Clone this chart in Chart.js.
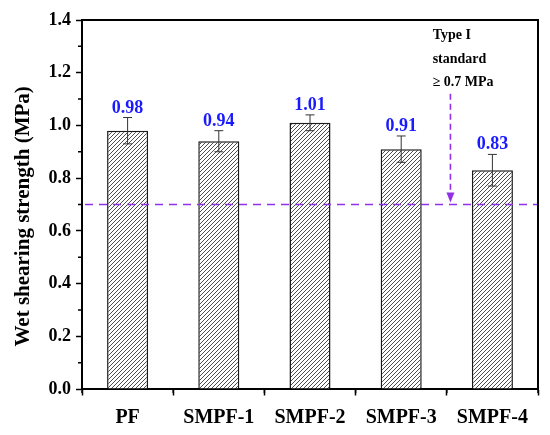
<!DOCTYPE html>
<html>
<head>
<meta charset="utf-8">
<script src="https://cdn.jsdelivr.net/npm/chart.js@4/dist/chart.umd.min.js"></script>
<style>
  html, body { margin: 0; padding: 0; background: #fff; }
  #wrap { width: 550px; height: 435px; }
</style>
</head>
<body>
<div id="wrap"><canvas id="c" width="550" height="435"></canvas></div>
<script>
// ---- data ----
const categories = ['PF', 'SMPF-1', 'SMPF-2', 'SMPF-3', 'SMPF-4'];
const strengths = [0.98, 0.94, 1.01, 0.91, 0.83];
const errors = [0.05, 0.04, 0.03, 0.05, 0.06];
const valueLabels = ['0.98', '0.94', '1.01', '0.91', '0.83'];
const standardValue = 0.7;
const noteLines = ['Type I', 'standard', '\u2265 0.7 MPa'];
const yTitle = 'Wet shearing strength (MPa)';

// ---- styles ----
const SERIF = "'Liberation Serif', 'Times New Roman', Times, serif";
const PURPLE = '#9030e8';

function makeHatch() {
  const pc = document.createElement('canvas');
  pc.width = 4; pc.height = 4;
  const g = pc.getContext('2d');
  g.fillStyle = '#fff';
  g.fillRect(0, 0, 4, 4);
  g.strokeStyle = '#3a3a3a';
  g.lineWidth = 0.9;
  g.beginPath();
  g.moveTo(0, 4); g.lineTo(4, 0);
  g.moveTo(-1, 1); g.lineTo(1, -1);
  g.moveTo(3, 5); g.lineTo(5, 3);
  g.stroke();
  return g.createPattern(pc, 'repeat');
}

const overlay = {
  id: 'overlay',
  afterDatasetsDraw(chart) {
    const { ctx, chartArea: a, scales: { x, y } } = chart;
    ctx.save();
    // standard dashed line
    const py7 = y.getPixelForValue(standardValue);
    ctx.strokeStyle = PURPLE;
    ctx.lineWidth = 1.6;
    ctx.setLineDash([8, 6]);
    ctx.beginPath();
    ctx.moveTo(a.left + 3, py7);
    ctx.lineTo(a.right, py7);
    ctx.stroke();
    ctx.setLineDash([]);

    // error bars + value labels
    const meta = chart.getDatasetMeta(0);
    meta.data.forEach((bar, i) => {
      const cx = bar.x;
      const t = y.getPixelForValue(strengths[i] + errors[i]);
      const b = y.getPixelForValue(strengths[i] - errors[i]);
      ctx.strokeStyle = '#333';
      ctx.lineWidth = 1;
      ctx.beginPath();
      ctx.moveTo(cx, t); ctx.lineTo(cx, b);
      ctx.moveTo(cx - 4.5, t); ctx.lineTo(cx + 4.5, t);
      ctx.moveTo(cx - 4.5, b); ctx.lineTo(cx + 4.5, b);
      ctx.stroke();
      ctx.fillStyle = '#1a1aff';
      ctx.font = 'bold 18px ' + SERIF;
      ctx.textAlign = 'center';
      ctx.textBaseline = 'alphabetic';
      ctx.fillText(valueLabels[i], cx, t - 5);
    });

    // annotation arrow
    const ax = x.getPixelForValue(3.54);
    const aTop = y.getPixelForValue(1.12);
    const aTip = py7 - 2;
    ctx.strokeStyle = PURPLE;
    ctx.lineWidth = 1.6;
    ctx.setLineDash([6, 4]);
    ctx.beginPath();
    ctx.moveTo(ax, aTop);
    ctx.lineTo(ax, aTip - 8);
    ctx.stroke();
    ctx.setLineDash([]);
    ctx.fillStyle = PURPLE;
    ctx.beginPath();
    ctx.moveTo(ax, aTip);
    ctx.lineTo(ax - 4, aTip - 10);
    ctx.lineTo(ax + 4, aTip - 10);
    ctx.closePath();
    ctx.fill();

    // annotation text
    const nx = x.getPixelForValue(3.345);
    const ny = y.getPixelForValue(1.34);
    ctx.fillStyle = '#000';
    ctx.font = 'bold 14px ' + SERIF;
    ctx.textAlign = 'left';
    ctx.textBaseline = 'middle';
    noteLines.forEach((s, i) => ctx.fillText(s, nx, ny + i * 23.3));

    // y-axis title
    ctx.save();
    ctx.translate(24, y.getPixelForValue(0.655));
    ctx.rotate(-Math.PI / 2);
    ctx.font = 'bold 21px ' + SERIF;
    ctx.textAlign = 'center';
    ctx.textBaseline = 'middle';
    ctx.fillStyle = '#000';
    ctx.fillText(yTitle, 0, 0);
    ctx.restore();

    // frame (top & right)
    ctx.strokeStyle = '#000';
    ctx.lineWidth = 2;
    ctx.beginPath();
    ctx.moveTo(a.left, a.top);
    ctx.lineTo(a.right, a.top);
    ctx.lineTo(a.right, a.bottom);
    ctx.stroke();

    // minor ticks
    ctx.lineWidth = 1.5;
    ctx.beginPath();
    const yMinor = y.ticks.slice(0, -1).map(t => t.value + 0.1);
    yMinor.forEach(v => {
      const p = y.getPixelForValue(v);
      ctx.moveTo(a.left - 4, p); ctx.lineTo(a.left, p);
    });
    for (let i = 0; i <= categories.length; i++) {
      const p = x.getPixelForValue(i - 0.5);
      ctx.moveTo(p, a.bottom); ctx.lineTo(p, a.bottom + 4);
    }
    ctx.stroke();
    ctx.restore();
  }
};

new Chart(document.getElementById('c'), {
  type: 'bar',
  data: {
    labels: categories,
    datasets: [{
      data: strengths,
      backgroundColor: makeHatch(),
      borderColor: '#1a1a1a',
      borderWidth: 1.5,
      categoryPercentage: 1,
      barPercentage: 0.45
    }]
  },
  options: {
    responsive: false,
    animation: false,
    devicePixelRatio: 1,
    layout: { padding: { top: 20, right: 12, left: 0, bottom: 0 } },
    plugins: { legend: { display: false }, tooltip: { enabled: false } },
    scales: {
      x: {
        type: 'category',
        offset: true,
        grid: { display: true, drawOnChartArea: false, drawTicks: true, tickLength: 6.5, tickWidth: 1.5, tickColor: '#000' },
        border: { display: true, color: '#000', width: 2 },
        ticks: { color: '#000', font: { family: SERIF, size: 20, weight: 'bold' }, padding: 10, maxRotation: 0 },
        afterFit(s) { s.height = 46; }
      },
      y: {
        min: 0, max: 1.4,
        grid: { display: true, drawOnChartArea: false, drawTicks: true, tickLength: 6, tickWidth: 1.5, tickColor: '#000' },
        border: { display: true, color: '#000', width: 2 },
        ticks: {
          stepSize: 0.2, color: '#000', padding: 5,
          font: { family: SERIF, size: 18, weight: 'bold' },
          callback: v => Number(v).toFixed(1)
        },
        title: { display: false },
        afterFit(s) { s.width = 82; }
      }
    }
  },
  plugins: [overlay]
});
</script>
</body>
</html>
